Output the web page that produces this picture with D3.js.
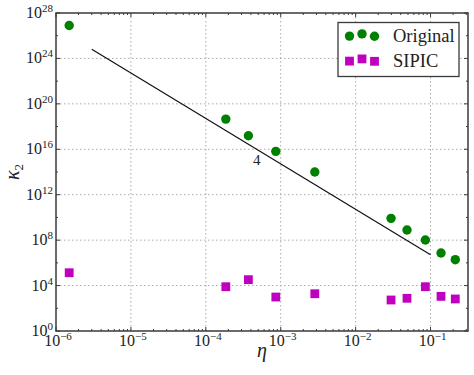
<!DOCTYPE html>
<html>
<head>
<meta charset="utf-8">
<script src="https://cdn.jsdelivr.net/npm/d3@7"></script>
<style>
  body { margin: 0; background: #fff; }
</style>
</head>
<body>
<div id="chart"></div>
<script>
const w = 474, h = 375;
const margin = {left: 56, right: 6, top: 13, bottom: 44};
const serif = "'Liberation Serif', 'DejaVu Serif', 'Times New Roman', Times, serif";

// eta values shared by both series
const eta = [1.5e-6, 1.85e-4, 3.7e-4, 8.6e-4, 2.85e-3, 0.0297, 0.0485, 0.0853, 0.138, 0.214];
// log10 of kappa_2
const originalExp = [26.9, 18.66, 17.19, 15.82, 14.0, 9.92, 8.89, 8.01, 6.87, 6.28];
const sipicExp = [5.13, 3.9, 4.52, 2.99, 3.28, 2.73, 2.88, 3.9, 3.05, 2.82];

const xTickExp = [-6, -5, -4, -3, -2, -1];
const yTickExp = [0, 4, 8, 12, 16, 20, 24, 28];
const yMinorExp = [2, 6, 10, 14, 18, 22, 26];

// slope -4 reference line
const slopeLine = [[3e-6, Math.pow(10, 2.72) * Math.pow(3e-6, -4)], [0.1, Math.pow(10, 2.72) * Math.pow(0.1, -4)]];

const x = d3.scaleLog().domain([1e-6, Math.pow(10, -0.5)]).range([margin.left, w - margin.right]);
const y = d3.scaleLog().domain([1, 1e28]).range([h - margin.bottom, margin.top]);

const svg = d3.select('#chart').append('svg')
  .attr('width', w).attr('height', h)
  .attr('font-family', serif);

const x0 = margin.left, x1 = w - margin.right, y0 = h - margin.bottom, y1 = margin.top;

// grid
svg.append('g').selectAll('line')
  .data(xTickExp.slice(1))
  .enter().append('line')
  .attr('x1', d => x(Math.pow(10, d))).attr('x2', d => x(Math.pow(10, d)))
  .attr('y1', y1).attr('y2', y0)
  .attr('stroke', '#aaa').attr('stroke-dasharray', '1.5,2.5').attr('stroke-width', 1);
svg.append('g').selectAll('line')
  .data(yTickExp.slice(1, -1))
  .enter().append('line')
  .attr('y1', d => y(Math.pow(10, d))).attr('y2', d => y(Math.pow(10, d)))
  .attr('x1', x0).attr('x2', x1)
  .attr('stroke', '#aaa').attr('stroke-dasharray', '1.5,2.5').attr('stroke-width', 1);

// minor x ticks
let xMinor = [];
for (let e = -6; e <= -1; e++) {
  for (let m = 2; m <= 9; m++) {
    const v = m * Math.pow(10, e);
    if (v < x.domain()[1]) xMinor.push(v);
  }
}
const ticks = svg.append('g').attr('stroke', '#3a3a3a');
xMinor.forEach(v => {
  ticks.append('line').attr('x1', x(v)).attr('x2', x(v)).attr('y1', y0).attr('y2', y0 - 2);
  ticks.append('line').attr('x1', x(v)).attr('x2', x(v)).attr('y1', y1).attr('y2', y1 + 2);
});
xTickExp.forEach(e => {
  const v = Math.pow(10, e);
  ticks.append('line').attr('x1', x(v)).attr('x2', x(v)).attr('y1', y0).attr('y2', y0 - 4);
  ticks.append('line').attr('x1', x(v)).attr('x2', x(v)).attr('y1', y1).attr('y2', y1 + 4);
});
yMinorExp.forEach(e => {
  const v = Math.pow(10, e);
  ticks.append('line').attr('y1', y(v)).attr('y2', y(v)).attr('x1', x0).attr('x2', x0 + 2);
  ticks.append('line').attr('y1', y(v)).attr('y2', y(v)).attr('x1', x1).attr('x2', x1 - 2);
});
yTickExp.forEach(e => {
  const v = Math.pow(10, e);
  ticks.append('line').attr('y1', y(v)).attr('y2', y(v)).attr('x1', x0).attr('x2', x0 + 4);
  ticks.append('line').attr('y1', y(v)).attr('y2', y(v)).attr('x1', x1).attr('x2', x1 - 4);
});

// frame
svg.append('rect')
  .attr('x', x0).attr('y', y1).attr('width', x1 - x0).attr('height', y0 - y1)
  .attr('fill', 'none').attr('stroke', '#3a3a3a').attr('stroke-width', 1.5);

// tick labels
const xl = svg.append('g').selectAll('text')
  .data(xTickExp).enter().append('text')
  .attr('x', d => x(Math.pow(10, d)) + 2)
  .attr('y', y0 + 15)
  .attr('text-anchor', 'middle')
  .attr('font-size', 16).attr('fill', '#222');
xl.append('tspan').text('10');
xl.append('tspan').attr('dy', -6).attr('font-size', 11).text(d => '\u2212' + (-d));

const yl = svg.append('g').selectAll('text')
  .data(yTickExp).enter().append('text')
  .attr('x', x0 - 3)
  .attr('y', d => y(Math.pow(10, d)) + 5)
  .attr('text-anchor', 'end')
  .attr('font-size', 16).attr('fill', '#222');
yl.append('tspan').text('10');
yl.append('tspan').attr('dy', -6).attr('font-size', 11).text(d => d);

// axis labels
svg.append('text')
  .attr('x', 262).attr('y', 357)
  .attr('text-anchor', 'middle')
  .attr('font-size', 20).attr('font-style', 'italic').attr('fill', '#222')
  .text('\u03b7');
const ky = svg.append('text')
  .attr('transform', 'translate(19,172) rotate(-90)')
  .attr('text-anchor', 'middle')
  .attr('font-size', 20).attr('font-style', 'italic').attr('fill', '#222');
ky.append('tspan').text('\u03ba');
ky.append('tspan').attr('dy', 4).attr('font-size', 13).attr('font-style', 'normal').text('2');

// reference line
svg.append('path')
  .datum(slopeLine)
  .attr('d', d3.line().x(d => x(d[0])).y(d => y(d[1])))
  .attr('stroke', '#111').attr('stroke-width', 1.2).attr('fill', 'none');
svg.append('text')
  .attr('x', x(Math.pow(10, -3.32))).attr('y', y(Math.pow(10, 15.05)) + 5)
  .attr('text-anchor', 'middle').attr('font-size', 15).attr('fill', '#222')
  .text('4');

// points
const green = '#008000', magenta = '#bf00bf';
svg.append('g').selectAll('circle')
  .data(eta.map((e, i) => [e, Math.pow(10, originalExp[i])]))
  .enter().append('circle')
  .attr('cx', d => x(d[0])).attr('cy', d => y(d[1]))
  .attr('r', 4.7).attr('fill', green);
svg.append('g').selectAll('rect')
  .data(eta.map((e, i) => [e, Math.pow(10, sipicExp[i])]))
  .enter().append('rect')
  .attr('x', d => x(d[0]) - 4.4).attr('y', d => y(d[1]) - 4.4)
  .attr('width', 8.8).attr('height', 8.8).attr('fill', magenta);

// legend
const lg = svg.append('g');
lg.append('rect')
  .attr('x', 338).attr('y', 22.5).attr('width', 121).attr('height', 54)
  .attr('fill', '#fff').attr('stroke', '#3a3a3a').attr('stroke-width', 1.3);
const lgOffsets = [0.6, -1.6, 0.8];
[349.5, 362, 374.5].forEach((cx, i) => {
  lg.append('circle').attr('cx', cx).attr('cy', 35.5 + lgOffsets[i]).attr('r', 4.7).attr('fill', green);
  lg.append('rect').attr('x', cx - 4.4).attr('y', 60.5 + lgOffsets[i] - 4.4)
    .attr('width', 8.8).attr('height', 8.8).attr('fill', magenta);
});
lg.append('text').attr('x', 393).attr('y', 41.5).attr('font-size', 18.5).attr('fill', '#222').text('Original');
lg.append('text').attr('x', 393).attr('y', 66.5).attr('font-size', 18.5).attr('fill', '#222').text('SIPIC');
</script>
</body>
</html>
